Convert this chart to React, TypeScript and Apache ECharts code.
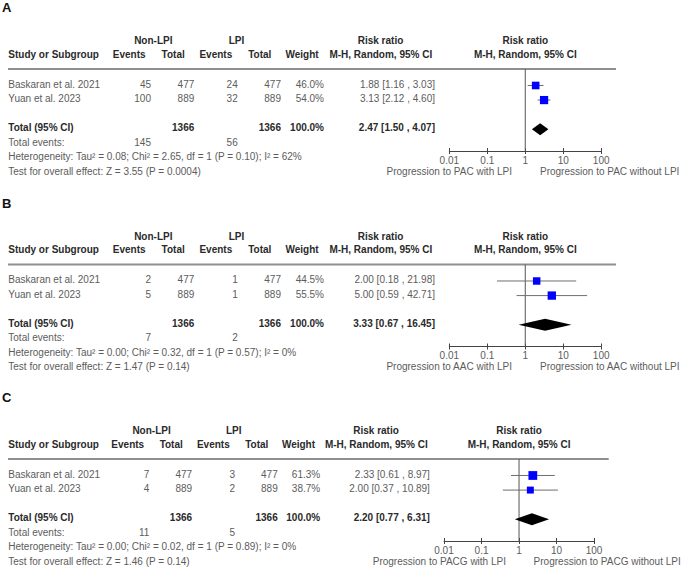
import React, { useEffect, useRef } from "react";
import * as echarts from "echarts";

// ---- data ----
const panelLetters = ["A", "B", "C"];
const outcomes = ["PAC", "AAC", "PACG"];
const studies = ["Baskaran et al. 2021", "Yuan et al. 2023"];

const nonLpiEvents = [[45, 100], [2, 5], [7, 4]];
const nonLpiTotals = [[477, 889], [477, 889], [477, 889]];
const lpiEvents = [[24, 32], [1, 1], [3, 2]];
const lpiTotals = [[477, 889], [477, 889], [477, 889]];
const weights = [[46.0, 54.0], [44.5, 55.5], [61.3, 38.7]];

const riskRatios = [[1.88, 3.13], [2.0, 5.0], [2.33, 2.0]];
const ciLower = [[1.16, 2.12], [0.18, 0.59], [0.61, 0.37]];
const ciUpper = [[3.03, 4.6], [21.98, 42.71], [8.97, 10.89]];

const pooledRR = [2.47, 3.33, 2.2];
const pooledLower = [1.5, 0.67, 0.77];
const pooledUpper = [4.07, 16.45, 6.31];

const totalEventsNonLpi = [145, 7, 11];
const totalEventsLpi = [56, 2, 5];

const heterogeneity = [
  "Heterogeneity: Tau² = 0.08; Chi² = 2.65, df = 1 (P = 0.10); I² = 62%",
  "Heterogeneity: Tau² = 0.00; Chi² = 0.32, df = 1 (P = 0.57); I² = 0%",
  "Heterogeneity: Tau² = 0.00; Chi² = 0.02, df = 1 (P = 0.89); I² = 0%",
];
const overallEffect = [
  "Test for overall effect: Z = 3.55 (P = 0.0004)",
  "Test for overall effect: Z = 1.47 (P = 0.14)",
  "Test for overall effect: Z = 1.46 (P = 0.14)",
];

const tickValues = [0.01, 0.1, 1, 10, 100];
const tickLabels = ["0.01", "0.1", "1", "10", "100"];

// rows on the forest y scale: each study, then a blank, then the pooled total
const studyRows = [0, 1];
const totalRow = 3;

// ---- layout ----
const panelTop = [0, 195.5, 390];
const panelScale = [1, 1, 0.988];
const FONT = "'Liberation Sans', Arial, Helvetica, sans-serif";
const GREY = "#5c5c5c";
const DARK = "#2a2a2a";
const Y_MIN = -1.13;
const Y_MAX = 4.49;

const fmt = (v: number) => v.toFixed(2);
const ciText = (rr: number, lo: number, hi: number) => `${fmt(rr)} [${fmt(lo)} , ${fmt(hi)}]`;

function buildOption() {
  const grids: any[] = [];
  const xAxes: any[] = [];
  const yAxes: any[] = [];
  const series: any[] = [];
  const graphics: any[] = [];

  panelLetters.forEach((letter, p) => {
    const sx = panelScale[p];
    const X = (x: number) => 8 + (x - 8) * sx;
    const Y = (y: number) => y + panelTop[p];
    const rowTextY = (r: number) => Y(84 + r * 14.6);

    const t = (
      x: number,
      y: number,
      text: string,
      align: string,
      bold = false,
      size = 10,
      color?: string
    ) =>
      graphics.push({
        type: "text",
        x,
        y,
        silent: true,
        style: {
          text,
          fill: color || (bold ? DARK : GREY),
          font: `${bold ? "bold " : ""}${size}px ${FONT}`,
          textAlign: align,
          textVerticalAlign: "middle",
        },
      });

    // panel letter
    t(X(2), Y(7.5), letter, "left", true, 13, "#111");

    // table headers
    t(X(153.3), Y(40.7), "Non-LPI", "center", true);
    t(X(236.5), Y(40.7), "LPI", "center", true);
    t(X(380.5), Y(40.7), "Risk ratio", "center", true);
    t(X(525.3), Y(40.7), "Risk ratio", "center", true);
    t(X(8.3), Y(54.3), "Study or Subgroup", "left", true);
    t(X(129.2), Y(54.3), "Events", "center", true);
    t(X(173.2), Y(54.3), "Total", "center", true);
    t(X(215.8), Y(54.3), "Events", "center", true);
    t(X(259.8), Y(54.3), "Total", "center", true);
    t(X(302), Y(54.3), "Weight", "center", true);
    t(X(380.8), Y(54.3), "M-H, Random, 95% CI", "center", true);
    t(X(525.3), Y(54.3), "M-H, Random, 95% CI", "center", true);

    // header rule
    graphics.push({
      type: "line",
      silent: true,
      shape: { x1: X(8), y1: Y(69), x2: X(616), y2: Y(69) },
      style: { stroke: "#8f8f8f", lineWidth: 2 },
    });

    // study rows
    studies.forEach((name, i) => {
      const y = rowTextY(studyRows[i]);
      t(X(8.3), y, name, "left");
      t(X(151), y, String(nonLpiEvents[p][i]), "right");
      t(X(194.3), y, String(nonLpiTotals[p][i]), "right");
      t(X(237.7), y, String(lpiEvents[p][i]), "right");
      t(X(281), y, String(lpiTotals[p][i]), "right");
      t(X(324), y, `${weights[p][i].toFixed(1)}%`, "right");
      t(X(435), y, ciText(riskRatios[p][i], ciLower[p][i], ciUpper[p][i]), "right");
    });

    // pooled row
    const sum = (a: number[]) => a.reduce((s, v) => s + v, 0);
    const ty = rowTextY(totalRow);
    t(X(8.3), ty, "Total (95% CI)", "left", true);
    t(X(194.3), ty, String(sum(nonLpiTotals[p])), "right", true);
    t(X(281), ty, String(sum(lpiTotals[p])), "right", true);
    t(X(324), ty, `${sum(weights[p]).toFixed(1)}%`, "right", true);
    t(X(435), ty, ciText(pooledRR[p], pooledLower[p], pooledUpper[p]), "right", true);

    t(X(8.3), Y(142.3), "Total events:", "left");
    t(X(151), Y(142.3), String(totalEventsNonLpi[p]), "right");
    t(X(237.7), Y(142.3), String(totalEventsLpi[p]), "right");
    t(X(8.3), Y(156.5), heterogeneity[p], "left");
    t(X(8.3), Y(171), overallEffect[p], "left");

    // favours labels under the axis
    t(X(512), Y(171), `Progression to ${outcomes[p]} with LPI`, "right");
    t(X(540), Y(171), `Progression to ${outcomes[p]} without LPI`, "left");

    // forest grid (log scale risk ratio)
    const left = X(449.3);
    const width = (601.2 - 449.3) * sx;
    grids.push({ left, top: Y(69), width, height: 82 });

    const axisBase = {
      type: "log",
      logBase: 10,
      min: tickValues[0],
      max: tickValues[tickValues.length - 1],
      gridIndex: p,
      position: "bottom",
      splitLine: { show: false },
    };
    xAxes.push({
      ...axisBase,
      axisLine: { show: true, onZero: false, lineStyle: { color: "#444", width: 1 } },
      axisTick: { show: true, length: 3, lineStyle: { color: "#444", width: 1 } },
      axisLabel: {
        show: true,
        margin: 4,
        color: GREY,
        fontSize: 10,
        fontFamily: FONT,
        formatter: (v: number) => {
          const k = tickValues.findIndex((tv) => Math.abs(Math.log10(tv) - Math.log10(v)) < 1e-6);
          return k >= 0 ? tickLabels[k] : "";
        },
      },
    });
    xAxes.push({
      ...axisBase,
      axisLine: { show: false, onZero: false },
      axisTick: { show: true, inside: true, length: 3, lineStyle: { color: "#444", width: 1 } },
      axisLabel: { show: false },
    });
    yAxes.push({
      type: "value",
      gridIndex: p,
      min: Y_MIN,
      max: Y_MAX,
      inverse: true,
      show: false,
      splitLine: { show: false },
    });

    // line of no effect
    series.push({
      type: "custom",
      xAxisIndex: 2 * p,
      yAxisIndex: p,
      silent: true,
      data: [[1, Y_MIN, Y_MAX]],
      renderItem: (_params: any, api: any) => {
        const a = api.coord([api.value(0), api.value(1)]);
        const b = api.coord([api.value(0), api.value(2)]);
        return {
          type: "line",
          shape: { x1: a[0], y1: a[1], x2: b[0], y2: b[1] },
          style: { stroke: "#555", lineWidth: 1 },
        };
      },
    });

    // study estimates with confidence intervals
    series.push({
      type: "custom",
      xAxisIndex: 2 * p,
      yAxisIndex: p,
      silent: true,
      data: studies.map((_, i) => [
        riskRatios[p][i],
        ciLower[p][i],
        ciUpper[p][i],
        studyRows[i],
        weights[p][i],
      ]),
      renderItem: (_params: any, api: any) => {
        const row = api.value(3);
        const c = api.coord([api.value(0), row]);
        const l = api.coord([api.value(1), row]);
        const h = api.coord([api.value(2), row]);
        const s = 1.12 * Math.sqrt(api.value(4));
        return {
          type: "group",
          children: [
            {
              type: "line",
              shape: { x1: l[0], y1: l[1], x2: h[0], y2: h[1] },
              style: { stroke: "#6f6f6f", lineWidth: 1 },
            },
            {
              type: "rect",
              shape: { x: c[0] - s / 2, y: c[1] - s / 2, width: s, height: s },
              style: { fill: "#0000ff" },
            },
          ],
        };
      },
    });

    // pooled diamond
    series.push({
      type: "custom",
      xAxisIndex: 2 * p,
      yAxisIndex: p,
      silent: true,
      data: [[pooledRR[p], pooledLower[p], pooledUpper[p], totalRow]],
      renderItem: (_params: any, api: any) => {
        const row = api.value(3);
        const c = api.coord([api.value(0), row]);
        const l = api.coord([api.value(1), row]);
        const h = api.coord([api.value(2), row]);
        const half = 6;
        return {
          type: "polygon",
          shape: {
            points: [
              [l[0], l[1]],
              [c[0], c[1] - half],
              [h[0], h[1]],
              [c[0], c[1] + half],
            ],
          },
          style: { fill: "#000" },
        };
      },
    });
  });

  return {
    animation: false,
    backgroundColor: "#ffffff",
    grid: grids,
    xAxis: xAxes,
    yAxis: yAxes,
    series,
    graphic: { elements: graphics },
  };
}

export default function App() {
  const ref = useRef<HTMLDivElement>(null);

  useEffect(() => {
    if (!ref.current) return;
    const chart = echarts.init(ref.current, undefined, { renderer: "svg" });
    chart.setOption(buildOption() as any);
    return () => chart.dispose();
  }, []);

  return (
    <div
      ref={ref}
      style={{ position: "fixed", left: 0, top: 0, width: 685, height: 568, background: "#fff" }}
    />
  );
}
